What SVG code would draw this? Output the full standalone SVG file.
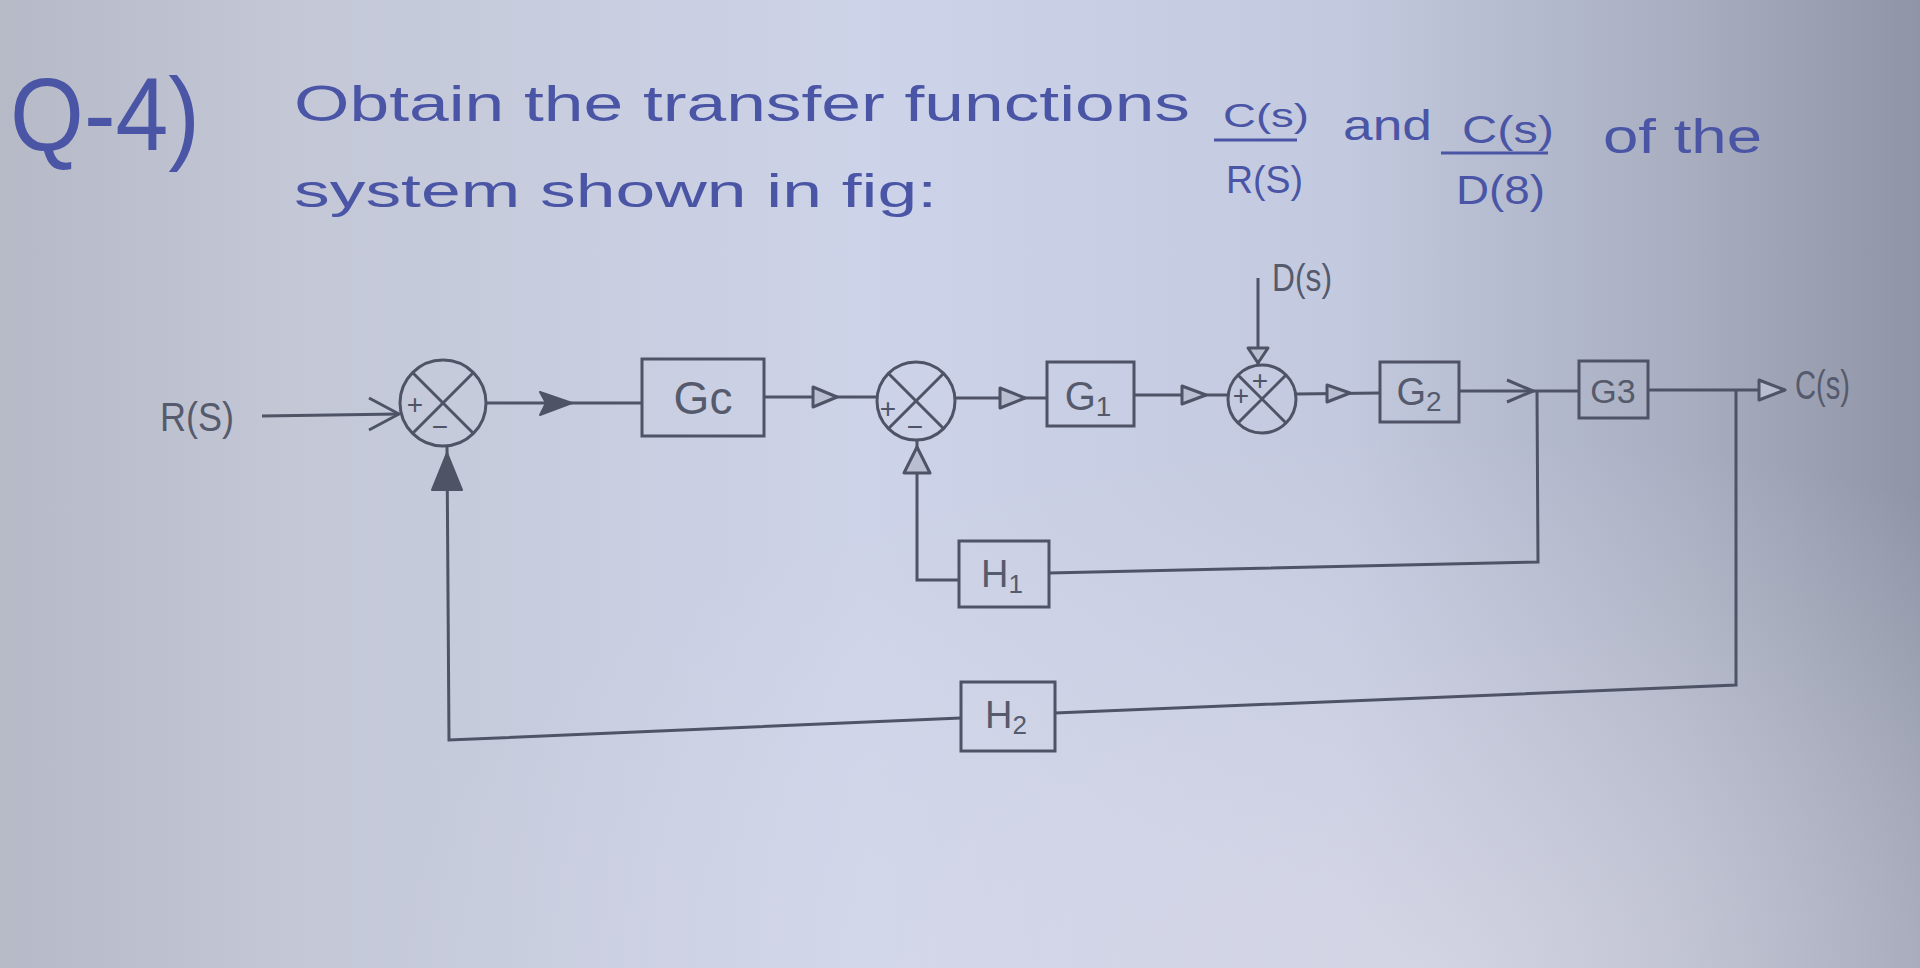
<svg xmlns="http://www.w3.org/2000/svg" width="1920" height="968" viewBox="0 0 1920 968">
  <defs>
    <linearGradient id="bgH" x1="0" y1="0" x2="1" y2="0">
      <stop offset="0" stop-color="#b6b9c6"/>
      <stop offset="0.15" stop-color="#c3c7d6"/>
      <stop offset="0.45" stop-color="#cdd3e8"/>
      <stop offset="0.7" stop-color="#c3c9de"/>
      <stop offset="0.88" stop-color="#a8aec0"/>
      <stop offset="1" stop-color="#8f95a7"/>
    </linearGradient>
    <radialGradient id="glow" cx="0.75" cy="1.0" r="0.55">
      <stop offset="0" stop-color="#e4e2ee" stop-opacity="0.55"/>
      <stop offset="1" stop-color="#e4e2ee" stop-opacity="0"/>
    </radialGradient>
    <style>
      .ink { font-family: "Liberation Sans", "DejaVu Sans", sans-serif; fill: #4a55a6; }
      .lbl { font-family: "Liberation Sans", "DejaVu Sans", sans-serif; fill: #555a6c; }
      .box { fill: none; stroke: #4f5366; stroke-width: 3; }
      .sum { fill: none; stroke: #4f5366; stroke-width: 3; }
      .wire { fill: none; stroke: #4f5366; stroke-width: 3; stroke-linejoin: miter; }
      .fline { fill: none; stroke: #4a55a6; stroke-width: 3; }
      .ahOpen { fill: none; stroke: #4f5366; stroke-width: 3; stroke-linejoin: round; }
      .ahTri { fill: #b9bed0; stroke: #4f5366; stroke-width: 3; stroke-linejoin: round; }
      .ahFill { fill: #4f5366; stroke: #4f5366; stroke-width: 2; stroke-linejoin: round; }
      .sign { font-family: "Liberation Sans", "DejaVu Sans", sans-serif; fill: #4f5366; font-size: 28px; text-anchor: middle; }
    </style>
  </defs>

  <rect x="0" y="0" width="1920" height="968" fill="url(#bgH)"/>
  <rect x="0" y="0" width="1920" height="968" fill="url(#glow)"/>

  <!-- Question text -->
  <g id="question">
    <text class="ink" x="10" y="150" font-size="104" textLength="190" lengthAdjust="spacingAndGlyphs">Q-4)</text>
    <text class="ink" x="294" y="121" font-size="50" textLength="896" lengthAdjust="spacingAndGlyphs">Obtain the transfer functions</text>
    <text class="ink" x="1223" y="127" font-size="34" textLength="86" lengthAdjust="spacingAndGlyphs">C(s)</text>
    <line class="fline" x1="1214" y1="140" x2="1297" y2="140"/>
    <text class="ink" x="1226" y="193" font-size="38" textLength="77" lengthAdjust="spacingAndGlyphs">R(S)</text>
    <text class="ink" x="1343" y="140" font-size="42" textLength="89" lengthAdjust="spacingAndGlyphs">and</text>
    <text class="ink" x="1462" y="143" font-size="38" textLength="92" lengthAdjust="spacingAndGlyphs">C(s)</text>
    <line class="fline" x1="1441" y1="153" x2="1548" y2="153"/>
    <text class="ink" x="1456" y="204" font-size="40" textLength="89" lengthAdjust="spacingAndGlyphs">D(8)</text>
    <text class="ink" x="1603" y="153" font-size="48" textLength="159" lengthAdjust="spacingAndGlyphs">of the</text>
    <text class="ink" x="294" y="207" font-size="46" textLength="643" lengthAdjust="spacingAndGlyphs">system shown in fig:</text>
  </g>

  <!-- Connectors -->
  <g id="connectors">
    <line class="wire" x1="262" y1="416" x2="399" y2="414"/>
    <polyline class="ahOpen" points="369,398 399,414 369,430"/>
    <line class="wire" x1="486" y1="403" x2="642" y2="403"/>
    <polygon class="ahFill" points="540,392 572,403 540,415 546,403"/>
    <line class="wire" x1="764" y1="397" x2="877" y2="397"/>
    <polygon class="ahTri" points="813,387 837,397 813,407"/>
    <line class="wire" x1="955" y1="398" x2="1047" y2="398"/>
    <polygon class="ahTri" points="1000,388 1025,398 1000,408"/>
    <line class="wire" x1="1134" y1="395" x2="1228" y2="395"/>
    <polygon class="ahTri" points="1182,386 1206,395 1182,404"/>
    <line class="wire" x1="1296" y1="394" x2="1380" y2="393"/>
    <polygon class="ahTri" points="1327,385 1350,393 1327,402"/>
    <line class="wire" x1="1459" y1="391" x2="1579" y2="391"/>
    <polyline class="ahOpen" points="1507,380 1533,391 1507,402"/>
    <line class="wire" x1="1648" y1="390" x2="1785" y2="390"/>
    <polygon class="ahTri" points="1759,380 1785,390 1759,400"/>
    <line class="wire" x1="1258" y1="278" x2="1258" y2="365"/>
    <polygon class="ahTri" points="1248,348 1268,348 1258,363"/>
    <polyline class="wire" points="1537,391 1538,562 1049,573"/>
    <polyline class="wire" points="959,580 917,580 917,440"/>
    <polygon class="ahTri" points="917,447 904,473 930,473"/>
    <polyline class="wire" points="1736,390 1736,685 1055,713"/>
    <polyline class="wire" points="961,718 449,740 447,445"/>
    <polygon class="ahFill" points="447,453 432,490 462,490"/>
  </g>

  <!-- Summing junctions -->
  <g id="sum1">
    <circle class="sum" cx="443" cy="403" r="43"/>
    <line class="sum" x1="413" y1="373" x2="473" y2="433"/>
    <line class="sum" x1="473" y1="373" x2="413" y2="433"/>
    <text class="sign" x="415" y="414">+</text>
    <text class="sign" x="440" y="436">−</text>
  </g>
  <g id="sum2">
    <circle class="sum" cx="916" cy="401" r="39"/>
    <line class="sum" x1="888" y1="373" x2="944" y2="429"/>
    <line class="sum" x1="944" y1="373" x2="888" y2="429"/>
    <text class="sign" x="888" y="418">+</text>
    <text class="sign" x="915" y="436">−</text>
  </g>
  <g id="sum3">
    <circle class="sum" cx="1262" cy="399" r="34"/>
    <line class="sum" x1="1238" y1="375" x2="1286" y2="423"/>
    <line class="sum" x1="1286" y1="375" x2="1238" y2="423"/>
    <text class="sign" x="1260" y="390">+</text>
    <text class="sign" x="1241" y="405">+</text>
  </g>

  <!-- Blocks -->
  <g id="Gc">
    <rect class="box" x="642" y="359" width="122" height="77"/>
    <text class="lbl" x="703" y="414" font-size="46" text-anchor="middle">Gc</text>
  </g>
  <g id="G1">
    <rect class="box" x="1047" y="362" width="87" height="64"/>
    <text class="lbl" x="1088" y="410" font-size="40" text-anchor="middle">G<tspan font-size="28" dy="6">1</tspan></text>
  </g>
  <g id="G2">
    <rect class="box" x="1380" y="362" width="79" height="60"/>
    <text class="lbl" x="1419" y="405" font-size="38" text-anchor="middle">G<tspan font-size="28" dy="6">2</tspan></text>
  </g>
  <g id="G3">
    <rect class="box" x="1579" y="361" width="69" height="57"/>
    <text class="lbl" x="1613" y="403" font-size="34" text-anchor="middle">G3</text>
  </g>
  <g id="H1">
    <rect class="box" x="959" y="541" width="90" height="66"/>
    <text class="lbl" x="1002" y="587" font-size="38" text-anchor="middle">H<tspan font-size="26" dy="6">1</tspan></text>
  </g>
  <g id="H2">
    <rect class="box" x="961" y="682" width="94" height="69"/>
    <text class="lbl" x="1006" y="728" font-size="38" text-anchor="middle">H<tspan font-size="26" dy="6">2</tspan></text>
  </g>

  <!-- Signal labels -->
  <g id="labels">
    <text class="lbl" x="160" y="431" font-size="40" textLength="74" lengthAdjust="spacingAndGlyphs">R(S)</text>
    <text class="lbl" x="1272" y="291" font-size="38" textLength="60" lengthAdjust="spacingAndGlyphs">D(s)</text>
    <text class="lbl" x="1795" y="399" font-size="40" textLength="55" lengthAdjust="spacingAndGlyphs">C(s)</text>
  </g>
</svg>
